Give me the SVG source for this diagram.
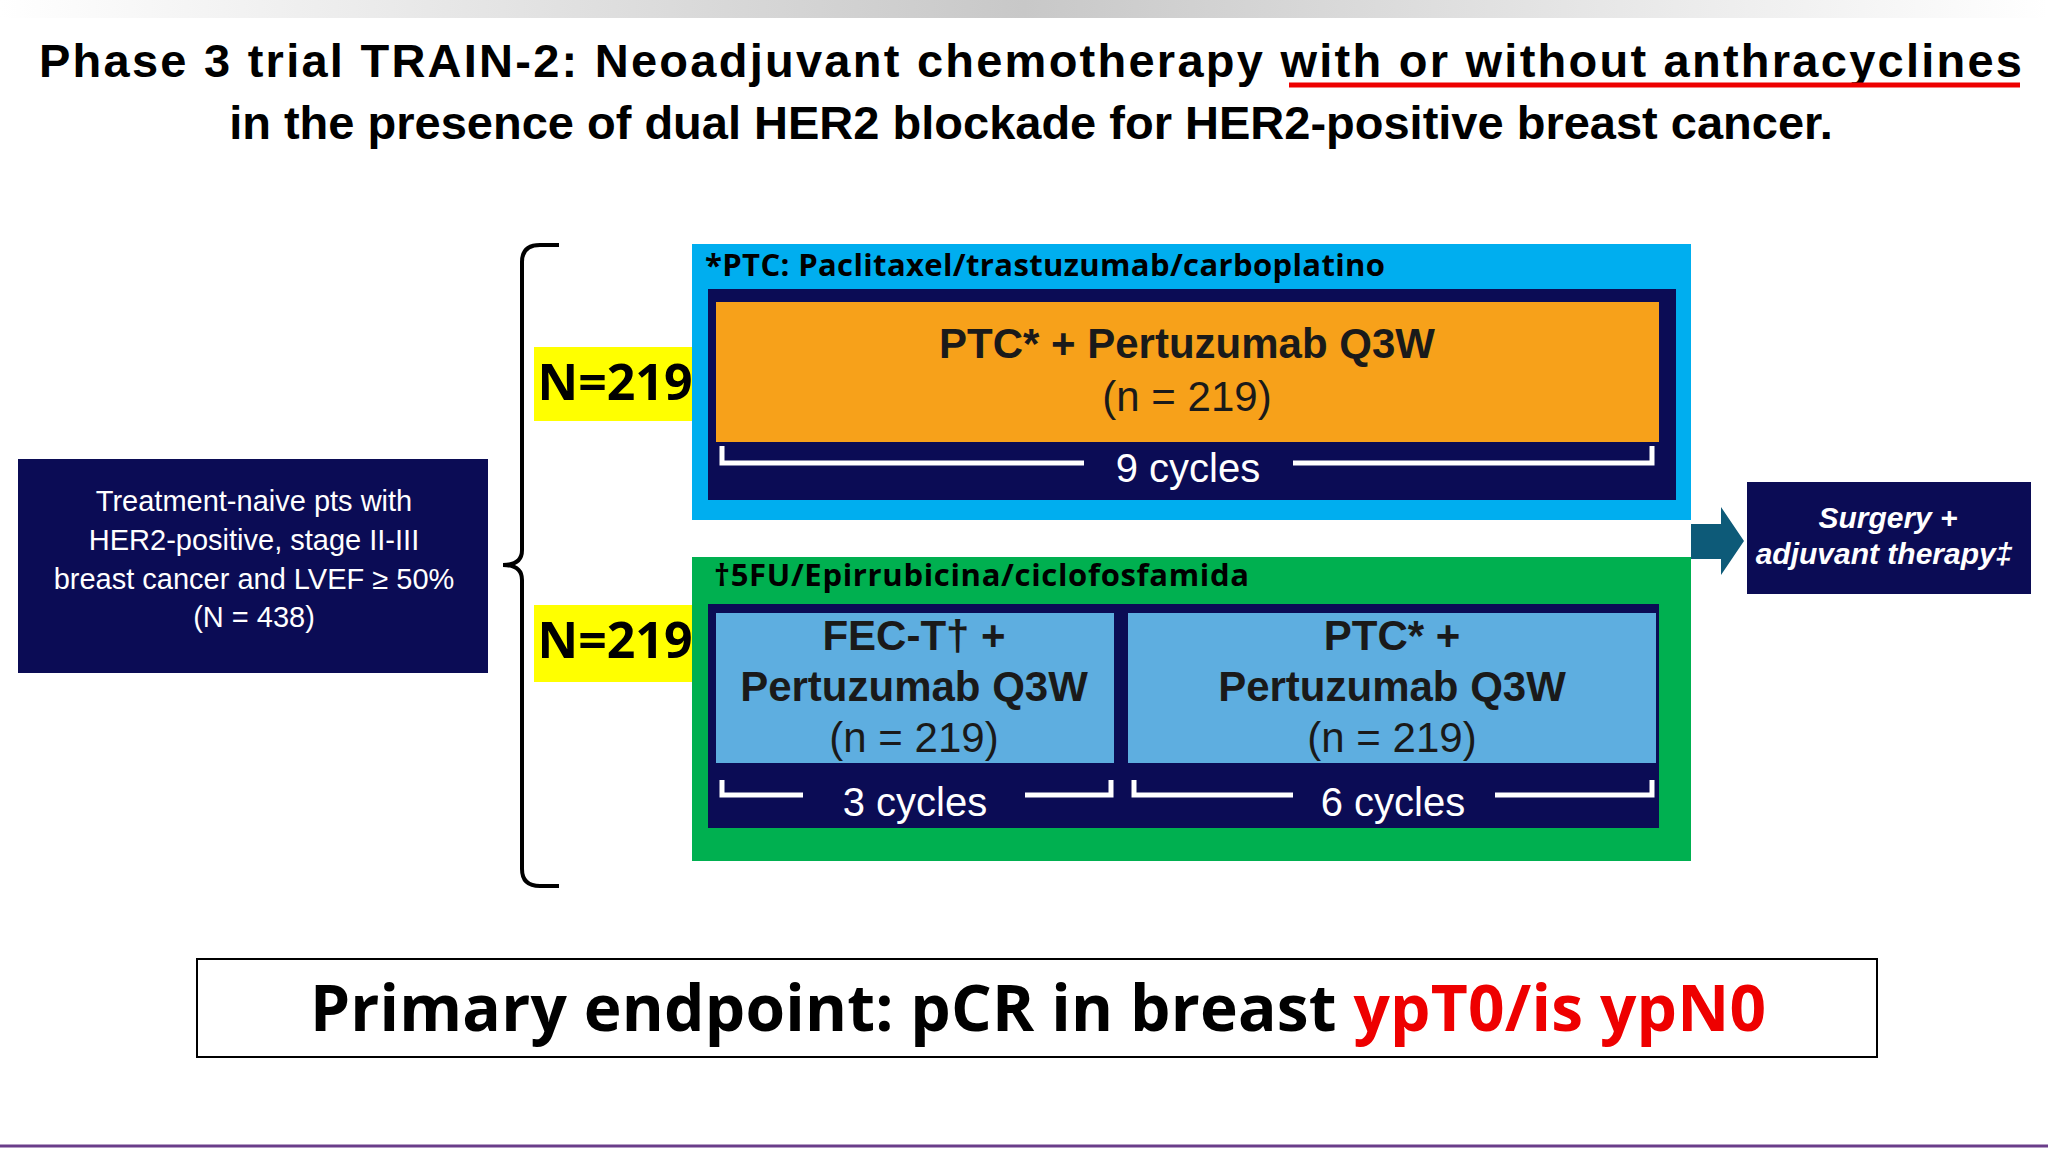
<svg xmlns="http://www.w3.org/2000/svg" width="2048" height="1152" viewBox="0 0 2048 1152">
<defs>
<linearGradient id="g" x1="0" x2="1"><stop offset="0" stop-color="#fff"/><stop offset="0.5" stop-color="#c8c8c8"/><stop offset="1" stop-color="#fff"/></linearGradient>
</defs>
<style>
.t{font-family:"Liberation Sans",Arial,sans-serif;font-weight:bold;fill:#000}
.w{font-family:"Liberation Sans",Arial,sans-serif;fill:#fff}
.c{font-family:"Open Sans","Liberation Sans",sans-serif;font-weight:bold}
.d{font-family:"Liberation Sans",Arial,sans-serif;fill:#1a1a1a;font-size:42px;text-anchor:middle}
.br{fill:none;stroke:#fff;stroke-width:5}
</style>
<rect width="2048" height="1152" fill="#fff"/>
<rect x="0" y="0" width="2048" height="18" fill="url(#g)"/>
<line x1="0" y1="1146" x2="2048" y2="1146" stroke="#6a3d8a" stroke-width="3"/>
<g id="title">
<text class="t" x="39" y="77" font-size="47" textLength="1983">Phase 3 trial TRAIN-2:  Neoadjuvant chemotherapy with or without anthracyclines</text>
<text class="t" x="1031" y="139" font-size="47" text-anchor="middle">in the presence of dual HER2 blockade for HER2-positive breast cancer.</text>
<line x1="1289" y1="85" x2="2020" y2="85" stroke="#e00" stroke-width="5"/>
</g>
<g id="population">
<rect x="18" y="459" width="470" height="214" fill="#0b0c55"/>
<text class="w" font-size="29" text-anchor="middle"><tspan x="254" y="511">Treatment-naive pts with</tspan><tspan x="254" y="550">HER2-positive, stage II-III</tspan><tspan x="254" y="589">breast cancer and LVEF ≥ 50%</tspan><tspan x="254" y="627">(N = 438)</tspan></text>
</g>
<g id="connectors">
<path d="M559,245 H540 Q522,245 522,262 V550 Q522,565 503,565 Q522,565 522,580 V869 Q522,886 540,886 H559" fill="none" stroke="#000" stroke-width="4"/>
<path d="M1691,524 H1721 V507 L1744,541 L1721,575 V559 H1691 Z" fill="#0d5a78"/>
</g>
<g id="n1"><rect x="534" y="347" width="162" height="74" fill="#ffff00"/><text class="c" x="615" y="400" font-size="50" text-anchor="middle">N=219</text></g>
<g id="n2"><rect x="534" y="605" width="162" height="77" fill="#ffff00"/><text class="c" x="615" y="658" font-size="50" text-anchor="middle">N=219</text></g>
<g id="armA">
<rect x="692" y="244" width="999" height="276" fill="#00aeef"/>
<text class="c" x="705" y="276" font-size="31" textLength="680">*PTC: Paclitaxel/trastuzumab/carboplatino</text>
<rect x="708" y="289" width="968" height="211" fill="#0b0c55"/>
<rect x="716" y="302" width="943" height="140" fill="#f7a11a"/>
<text class="d" x="1187" y="358" font-weight="bold">PTC* + Pertuzumab Q3W</text>
<text class="d" x="1187" y="411">(n = 219)</text>
<path class="br" d="M722,446 V463 H1084 M1293,463 H1652 V446"/>
<text class="w" x="1188" y="482" font-size="40" text-anchor="middle">9 cycles</text>
</g>
<g id="armB">
<rect x="692" y="557" width="999" height="304" fill="#00b050"/>
<text class="c" x="714" y="586" font-size="31" textLength="535">†5FU/Epirrubicina/ciclofosfamida</text>
<rect x="708" y="604" width="951" height="224" fill="#0b0c55"/>
<rect x="716" y="613" width="398" height="150" fill="#5eaee0"/>
<rect x="1128" y="613" width="528" height="150" fill="#5eaee0"/>
<text class="d" x="914" y="650" font-weight="bold">FEC-T† +</text>
<text class="d" x="914" y="701" font-weight="bold">Pertuzumab Q3W</text>
<text class="d" x="914" y="752">(n = 219)</text>
<text class="d" x="1392" y="650" font-weight="bold">PTC* +</text>
<text class="d" x="1392" y="701" font-weight="bold">Pertuzumab Q3W</text>
<text class="d" x="1392" y="752">(n = 219)</text>
<path class="br" d="M722,780 V795 H803 M1025,795 H1111 V780 M1134,780 V795 H1293 M1495,795 H1652 V780"/>
<text class="w" x="915" y="816" font-size="40" text-anchor="middle">3 cycles</text>
<text class="w" x="1393" y="816" font-size="40" text-anchor="middle">6 cycles</text>
</g>
<g id="surgery">
<rect x="1747" y="482" width="284" height="112" fill="#0b0c55"/>
<text class="w" font-size="30" font-weight="bold" font-style="italic" text-anchor="middle"><tspan x="1888" y="528">Surgery +</tspan><tspan x="1884" y="564">adjuvant therapy‡</tspan></text>
</g>
<g id="endpoint">
<rect x="197" y="959" width="1680" height="98" fill="#fff" stroke="#000" stroke-width="2"/>
<text class="c" x="310" y="1031" font-size="64" textLength="1456">Primary endpoint: pCR in breast <tspan fill="#e00">ypT0/is ypN0</tspan></text>
</g>
</svg>
